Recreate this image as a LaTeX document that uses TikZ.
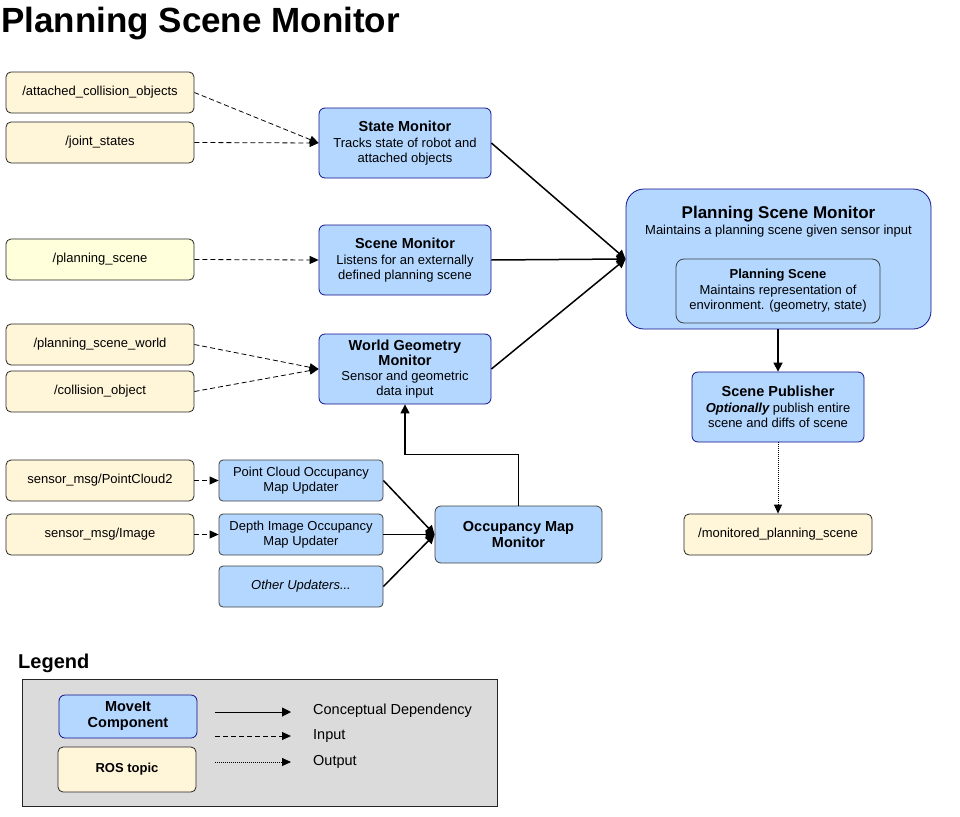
\documentclass[tikz,border=0pt]{standalone}
\usepackage{fontspec}
\setmainfont{Liberation Sans}
\usetikzlibrary{arrows.meta}
\definecolor{topicfill}{HTML}{FFF5D9}
\definecolor{topicfillb}{HTML}{FFFFDB}
\definecolor{compfill}{HTML}{B3D7FF}
\definecolor{compline}{HTML}{10108A}
\tikzset{
    topic/.style={draw=black!85, fill=topicfill, rounded corners=5pt, minimum width=188pt, minimum height=41pt, font=\fontsize{13}{15}\selectfont, align=center, inner sep=1pt, line width=0.8pt},
    comp/.style={draw=compline, fill=compfill, rounded corners=6pt, minimum width=172pt, minimum height=70pt, font=\fontsize{13}{15}\selectfont, align=center, inner sep=1pt, line width=0.8pt},
    updater/.style={draw=black!75, fill=compfill, rounded corners=4pt, minimum width=164pt, minimum height=41pt, font=\fontsize{13}{14.5}\selectfont, align=center, inner sep=1pt, line width=0.8pt},
    dep/.style={-{Triangle[length=9pt,width=9pt]}, line width=1.5pt},
    inp/.style={-{Triangle[length=9pt,width=8pt]}, dash pattern=on 5pt off 3pt, line width=0.8pt},
    outp/.style={-{Triangle[length=9pt,width=8pt]}, dash pattern=on 1pt off 1pt, line width=0.8pt}
}
\begin{document}
\begin{tikzpicture}[x=1pt,y=-1pt]
    \useasboundingbox (0,0) rectangle (960,816);
    \node[anchor=west, font=\bfseries\fontsize{35}{38}\selectfont, inner sep=0pt] (title) at (1,24) {Planning Scene Monitor};

    % ros topics
    \node[topic] (attached) at (100,92.5) {/attached\_collision\_objects};
    \node[topic] (joints) at (100,142.5) {/joint\_states};
    \node[topic, fill=topicfillb] (pscene) at (100,259.5) {/planning\_scene};
    \node[topic] (psworld) at (100,344.5) {/planning\_scene\_world};
    \node[topic] (collobj) at (100,391.5) {/collision\_object};
    \node[topic] (cloud) at (100,480.5) {sensor\_msg/PointCloud2};
    \node[topic] (image) at (100,534.5) {sensor\_msg/Image};
    \node[topic] (monitored) at (778,534.5) {/monitored\_planning\_scene};

    % components
    \node[comp] (state) at (405,143) {{\bfseries\fontsize{14.5}{17}\selectfont State Monitor}\\[1pt]Tracks state of robot and\\attached objects};
    \node[comp] (scenemon) at (405,260) {{\bfseries\fontsize{14.5}{17}\selectfont Scene Monitor}\\[1pt]Listens for an externally\\defined planning scene};
    \node[comp] (world) at (405,369) {{\bfseries\fontsize{14.5}{15}\selectfont World Geometry}\\{\bfseries\fontsize{14.5}{15}\selectfont Monitor}\\Sensor and geometric\\data input};
    \node[updater] (pcupd) at (301,480.5) {Point Cloud Occupancy\\Map Updater};
    \node[updater] (depthupd) at (301,534.5) {Depth Image Occupancy\\Map Updater};
    \node[updater] (otherupd) at (301,586.5) {\itshape Other Updaters...};
    \node[comp, draw=black!75, minimum width=167pt, minimum height=57pt, font=\bfseries\fontsize{14.5}{16}\selectfont] (occmap) at (518.5,534.5) {Occupancy Map\\Monitor};
    \node[comp, minimum width=305pt, minimum height=140pt, rounded corners=18pt] (psm) at (778.5,259) {};
    \node[font=\fontsize{13}{15}\selectfont, align=center] (psmtext) at (778.5,222) {{\bfseries\fontsize{17}{19}\selectfont Planning Scene Monitor}\\[1pt]Maintains a planning scene given sensor input};
    \node[comp, draw=black!75, minimum width=204pt, minimum height=64pt, rounded corners=8pt] (plscene) at (778,291) {{\bfseries Planning Scene}\\[1pt]Maintains representation of\\environment. (geometry, state)};
    \node[comp] (publisher) at (778,407) {{\bfseries\fontsize{14.5}{17}\selectfont Scene Publisher}\\[1pt]{\bfseries\itshape Optionally} publish entire\\scene and diffs of scene};

    % arrows
    \draw[inp] (attached.east) -- (state.west);
    \draw[inp] (joints.east) -- (state.west);
    \draw[inp] (pscene.east) -- (scenemon.west);
    \draw[inp] (psworld.east) -- (world.west);
    \draw[inp] (collobj.east) -- (world.west);
    \draw[inp] (cloud.east) -- (pcupd.west);
    \draw[inp] (image.east) -- (depthupd.west);
    \draw[dep] (state.east) -- (psm.west);
    \draw[dep] (scenemon.east) -- (psm.west);
    \draw[dep] (world.east) -- (psm.west);
    \draw[dep] (pcupd.east) -- (occmap.west);
    \draw[dep] (depthupd.east) -- (occmap.west);
    \draw[dep] (otherupd.east) -- (occmap.west);
    \draw[dep] (occmap.north) -- ++(0,-51) -| (world.south);
    \draw[dep] (psm.south -| publisher.north) -- (publisher.north);
    \draw[outp] (publisher.south) -- (monitored.north);

    % legend
    \node[anchor=west, font=\bfseries\fontsize{20}{22}\selectfont, inner sep=0pt] (legend) at (18,663) {Legend};
    \draw[black!85, fill=black!14, line width=0.8pt] (22,679) rectangle (497,806);
    \node[comp, minimum width=138pt, minimum height=43pt, font=\bfseries\fontsize{14.5}{16}\selectfont] (lgcomp) at (128,716.5) {MoveIt\\Component};
    \node[topic, minimum width=138pt, minimum height=45pt, font=\bfseries\fontsize{13}{15}\selectfont] (lgtopic) at (127,769.5) {ROS topic};
    \coordinate (la) at (215,712);
    \coordinate (lb) at (291,712);
    \coordinate (lc) at (215,736);
    \coordinate (ld) at (291,736);
    \coordinate (le) at (215,762);
    \coordinate (lf) at (291,762);
    \draw[dep, line width=1pt] (la) -- (lb);
    \draw[inp] (lc) -- (ld);
    \draw[outp] (le) -- (lf);
    \node[anchor=west, font=\fontsize{14.5}{17}\selectfont, inner sep=0pt] (ldep) at (313,711) {Conceptual Dependency};
    \node[anchor=west, font=\fontsize{14.5}{17}\selectfont, inner sep=0pt] (linp) at (313,736) {Input};
    \node[anchor=west, font=\fontsize{14.5}{17}\selectfont, inner sep=0pt] (lout) at (313,762) {Output};
\end{tikzpicture}
\end{document}
